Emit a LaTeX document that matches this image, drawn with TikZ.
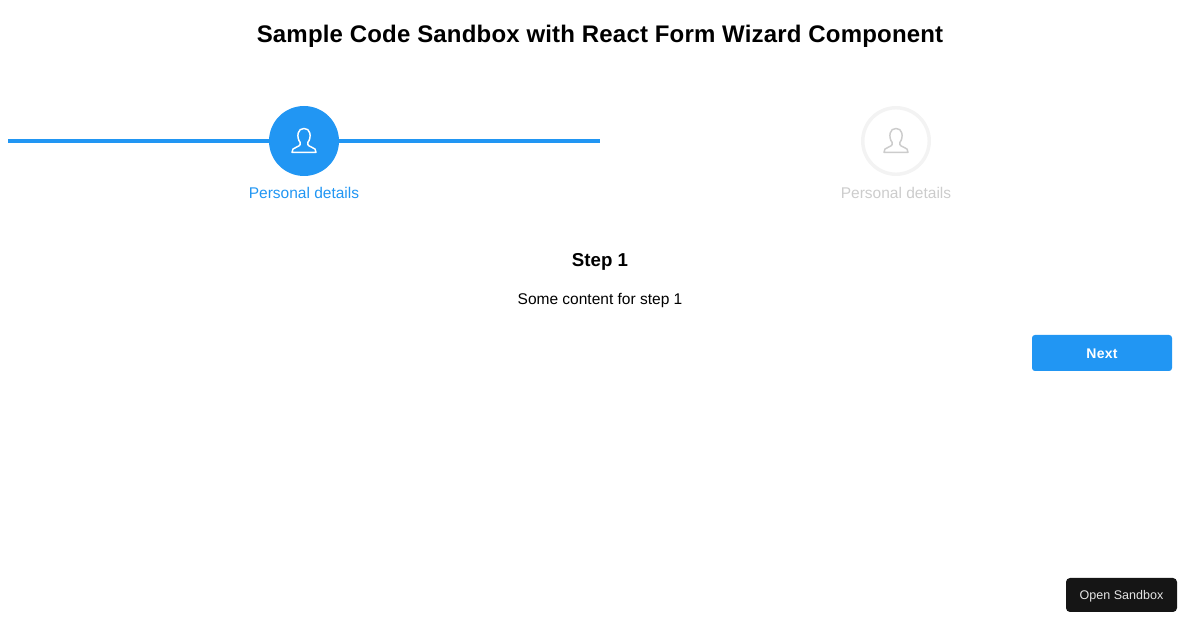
\documentclass[tikz,border=0pt]{standalone}
\usepackage{fontspec}
\usepackage{xcolor}
\setmainfont{Liberation Sans}
\newfontfamily\titlefont[LetterSpace=0.75]{Liberation Sans}
\newfontfamily\spacedfont[LetterSpace=2.0]{Liberation Sans}
\definecolor{wizblue}{HTML}{2196F3}
\definecolor{wizgray}{HTML}{CCCCCC}
\definecolor{wizring}{HTML}{F3F3F3}
\definecolor{sandbox}{HTML}{151515}
\usetikzlibrary{positioning}
\tikzset{
    usericon/.pic={
        \draw[line width=1.1pt, line join=round, pic actions]
            (-12,11.3) -- (12,11.3) -- (11,8)
            .. controls (9,6) and (5,6) .. (3.8,3.5)
            -- (3.8,1.5)
            .. controls (6,-1) and (6.5,-5) .. (5.8,-8)
            .. controls (5,-14) and (-5,-14) .. (-5.8,-8)
            .. controls (-6.5,-5) and (-6,-1) .. (-3.8,1.5)
            -- (-3.8,3.5)
            .. controls (-5,6) and (-9,6) .. (-11,8)
            -- cycle;
    },
    stepdone/.style={circle, fill=wizblue, minimum size=52.5pt, inner sep=0pt},
    steptodo/.style={circle, draw=wizring, line width=2.6pt, fill=white, minimum size=49.9pt, inner sep=0pt},
    steplabel/.style={font=\fontsize{11.63}{14}\selectfont},
    bar/.style={wizblue, line width=3pt}
}
\begin{document}
\begin{tikzpicture}[x=0.75pt, y=-0.75pt]
    \useasboundingbox (0,0) rectangle (1200,630);
    \node (title) at (600,36.5) {\fontsize{18}{22}\selectfont\titlefont\bfseries Sample Code Sandbox with React Form Wizard Component};
    % progress bar
    \coordinate (barstart) at (8,141);
    \coordinate (barend) at (600,141);
    \node[stepdone] (stepone) at (304,141) {};
    \node[steptodo] (steptwo) at (896,141) {};
    \draw[bar] (barstart) -- (stepone);
    \draw[bar] (stepone) -- (barend);
    \pic[draw=white] at (stepone) {usericon};
    \pic[draw=wizgray] at (steptwo) {usericon};
    \node[steplabel, text=wizblue] (labelone) at (304,192.8) {Personal details};
    \node[steplabel, text=wizgray] (labeltwo) at (896,192.8) {Personal details};
    % content
    \node (heading) at (600,261.8) {\fontsize{14}{16}\selectfont\bfseries Step 1};
    \node (content) at (600,300.8) {\fontsize{11.63}{14}\selectfont Some content for step 1};
    \node[fill=wizblue, rounded corners=2.2pt, minimum width=105pt, minimum height=27pt, inner sep=0pt, text=white, text height=8.5pt, text depth=0.5pt] (next) at (1102,353) {\fontsize{10.5}{12}\selectfont\spacedfont\bfseries Next};
    \node[fill=sandbox, rounded corners=3pt, minimum width=83.25pt, minimum height=25.5pt, inner sep=0pt, text=white!90!black, text height=7.5pt, text depth=1pt] (opensandbox) at (1121.5,595) {\fontsize{9.4}{11}\selectfont Open Sandbox};
\end{tikzpicture}
\end{document}
